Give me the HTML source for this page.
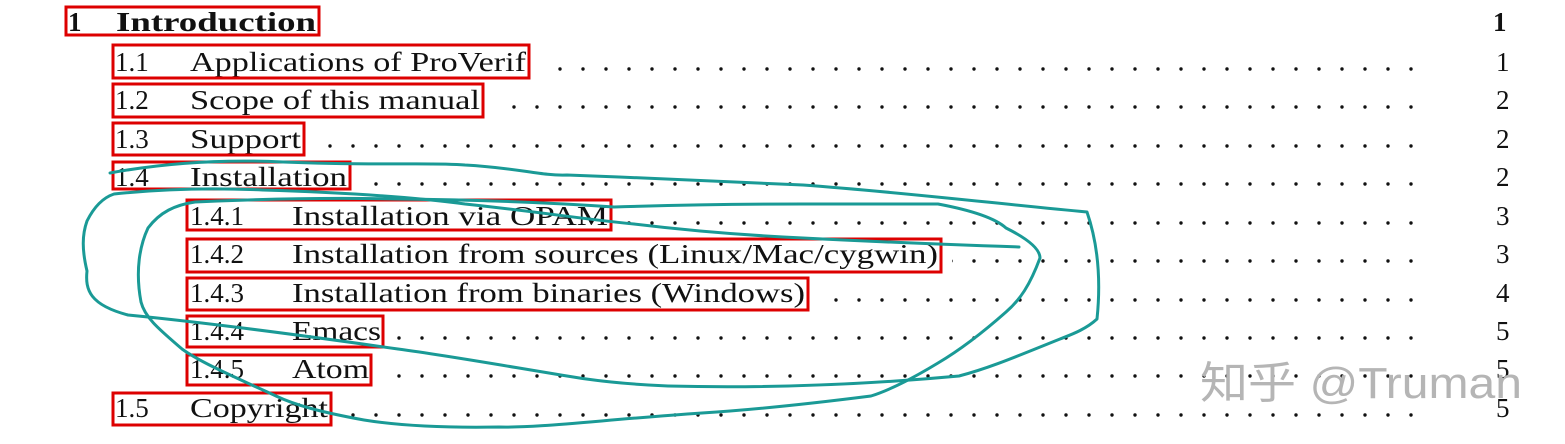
<!DOCTYPE html>
<html><head><meta charset="utf-8"><style>
html,body{margin:0;padding:0;background:#fff;}
svg{display:block;}
text{font-family:"Liberation Serif",serif;font-size:27px;fill:#111;}
.b{font-weight:bold;}
.w{font-family:"Liberation Sans","Noto Sans CJK SC",sans-serif;font-size:44px;fill:#b5b5b5;}
</style></head><body>
<svg width="1565" height="444" viewBox="0 0 1565 444" xmlns="http://www.w3.org/2000/svg">
<defs>
<pattern id="dp" patternUnits="userSpaceOnUse" x="0" y="0" width="23" height="444">
<circle cx="8" cy="69" r="1.7" fill="#111"/>
<circle cx="8" cy="107" r="1.7" fill="#111"/>
<circle cx="8" cy="146" r="1.7" fill="#111"/>
<circle cx="8" cy="184" r="1.7" fill="#111"/>
<circle cx="8" cy="223" r="1.7" fill="#111"/>
<circle cx="8" cy="261" r="1.7" fill="#111"/>
<circle cx="8" cy="300" r="1.7" fill="#111"/>
<circle cx="8" cy="338" r="1.7" fill="#111"/>
<circle cx="8" cy="376" r="1.7" fill="#111"/>
<circle cx="8" cy="415" r="1.7" fill="#111"/>
</pattern>
</defs>
<g fill="url(#dp)">
<rect x="540" y="60" width="875" height="15"/>
<rect x="494" y="98" width="921" height="15"/>
<rect x="315" y="137" width="1100" height="15"/>
<rect x="361" y="175" width="1054" height="15"/>
<rect x="622" y="214" width="793" height="15"/>
<rect x="952" y="252" width="463" height="15"/>
<rect x="819" y="291" width="596" height="15"/>
<rect x="394" y="329" width="1021" height="15"/>
<rect x="382" y="367" width="1033" height="15"/>
<rect x="342" y="406" width="1073" height="15"/>
</g>
<text class="b" x="68" y="31">1</text><text class="b" x="116" y="31" textLength="200" lengthAdjust="spacingAndGlyphs">Introduction</text>
<text class="b" x="1493" y="31">1</text>
<text x="115" y="71">1.1</text><text x="190" y="71" textLength="336" lengthAdjust="spacingAndGlyphs">Applications of ProVerif</text><text x="1496" y="71">1</text>
<text x="115" y="109">1.2</text><text x="190" y="109" textLength="290" lengthAdjust="spacingAndGlyphs">Scope of this manual</text><text x="1496" y="109">2</text>
<text x="115" y="148">1.3</text><text x="190" y="148" textLength="111" lengthAdjust="spacingAndGlyphs">Support</text><text x="1496" y="148">2</text>
<text x="115" y="186">1.4</text><text x="190" y="186" textLength="157" lengthAdjust="spacingAndGlyphs">Installation</text><text x="1496" y="186">2</text>
<text x="190" y="225">1.4.1</text><text x="292" y="225" textLength="316" lengthAdjust="spacingAndGlyphs">Installation via OPAM</text><text x="1496" y="225">3</text>
<text x="190" y="263">1.4.2</text><text x="292" y="263" textLength="646" lengthAdjust="spacingAndGlyphs">Installation from sources (Linux/Mac/cygwin)</text><text x="1496" y="263">3</text>
<text x="190" y="302">1.4.3</text><text x="292" y="302" textLength="513" lengthAdjust="spacingAndGlyphs">Installation from binaries (Windows)</text><text x="1496" y="302">4</text>
<text x="190" y="340">1.4.4</text><text x="292" y="340" textLength="89" lengthAdjust="spacingAndGlyphs">Emacs</text><text x="1496" y="340">5</text>
<text x="190" y="378">1.4.5</text><text x="292" y="378" textLength="77" lengthAdjust="spacingAndGlyphs">Atom</text><text x="1496" y="378">5</text>
<text x="115" y="417">1.5</text><text x="190" y="417" textLength="138" lengthAdjust="spacingAndGlyphs">Copyright</text><text x="1496" y="417">5</text>
<g fill="none" stroke="#d00" stroke-width="3">
<rect x="66" y="7" width="253" height="28"/>
<rect x="113" y="45" width="416" height="33"/>
<rect x="113" y="84" width="370" height="33"/>
<rect x="113" y="123" width="191" height="32"/>
<rect x="113" y="162" width="237" height="27"/>
<rect x="187" y="200" width="424" height="30"/>
<rect x="187" y="239" width="754" height="33"/>
<rect x="187" y="278" width="621" height="32"/>
<rect x="187" y="316" width="196" height="31"/>
<rect x="187" y="355" width="184" height="30"/>
<rect x="113" y="393" width="218" height="32"/>
</g>
<g fill="none" stroke="#1a9a96" stroke-width="3" stroke-linecap="round" stroke-linejoin="round">
<path d="M110,173 C180,160 240,160 283,162 C380,166 430,162 465,165 C520,168 540,176 567,175 C650,178 740,182 803,185 C900,192 1000,204 1087,212 C1100,250 1100,290 1097,319 C1085,330 1070,335 1060,339 C1020,355 990,368 959,376 C850,386 750,388 668,386 C620,384 590,380 567,376 C500,365 450,356 398,349 C300,335 200,322 128,315 C90,305 85,290 87,271 C82,250 82,235 87,221 C95,205 105,197 114,194 C170,188 220,188 263,190 C360,193 420,198 465,204 C540,212 590,220 634,224 C700,232 760,236 803,238 C880,242 960,245 1019,247"/>
<path d="M614,207 C680,205 750,204 803,204 C880,204 920,204 938,204 C970,210 995,218 1006,228 C1030,240 1040,250 1040,258 C1030,285 1020,300 1006,312 C980,335 960,350 938,363 C910,380 890,390 871,396 C800,405 750,410 702,413 C600,420 540,428 499,427 C440,428 395,425 364,420 C320,412 295,405 276,396 C230,375 200,362 182,349 C160,330 145,318 141,302 C135,270 140,245 148,228 C160,212 175,205 195,202 C280,198 350,198 398,199 C500,200 570,204 614,207"/>
</g>
<text class="w" x="1200" y="398" textLength="322" lengthAdjust="spacingAndGlyphs">知乎 @Truman</text>
</svg>
</body></html>
